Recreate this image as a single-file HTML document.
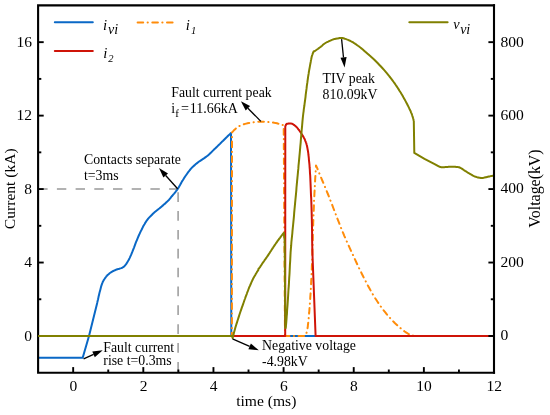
<!DOCTYPE html>
<html><head><meta charset="utf-8"><title>Fault current interruption</title>
<style>
html,body{margin:0;padding:0;background:#fff}
svg{display:block}
text{font-family:"Liberation Serif",serif;font-size:13.8px;fill:#000}
.tk text{font-size:15.5px}
.tkr text{font-size:15.6px}
text.ax{font-size:15.6px}
.lg text{font-style:italic;font-size:14.8px}
.lg tspan.s{font-size:14px}
.lg tspan.n{font-size:10.5px}
</style></head><body>
<svg width="550" height="415" viewBox="0 0 550 415">
<rect width="550" height="415" fill="#fff"/>
<g stroke="#999" stroke-width="1.5" fill="none">
<line x1="38.2" y1="188.9" x2="178.4" y2="188.9" stroke-dasharray="9.4 9.3"/>
<line x1="178.1" y1="192.2" x2="178.1" y2="372.7" stroke-dasharray="9.7 9.16"/>
</g>
<clipPath id="pc"><rect x="38.1" y="5.4" width="455.9" height="367.3"/></clipPath>
<g fill="none" stroke-width="2" stroke-linejoin="round" stroke-linecap="round" clip-path="url(#pc)">
<polyline stroke="#0a68c6" points="38.5,357.7 82.7,357.7 89.0,336.0 97.2,302.9 97.2,302.9 97.5,301.5 98.0,299.5 98.5,297.1 99.1,294.6 99.7,291.9 100.4,289.4 101.0,287.1 101.5,285.3 102.0,283.9 102.5,282.7 102.9,281.6 103.4,280.8 103.8,280.0 104.3,279.3 104.8,278.5 105.3,277.8 105.9,277.0 106.4,276.3 107.0,275.7 107.6,275.0 108.3,274.4 108.9,273.9 109.6,273.3 110.3,272.8 111.0,272.3 111.8,271.8 112.5,271.4 113.3,271.0 114.1,270.6 114.9,270.3 115.7,269.9 116.6,269.5 117.5,269.2 118.4,268.9 119.4,268.7 120.3,268.4 121.3,268.1 122.3,267.7 123.2,267.2 124.1,266.5 124.9,265.6 125.7,264.7 126.5,263.6 127.2,262.4 128.0,261.1 128.8,259.7 129.6,258.1 130.4,256.4 131.3,254.4 132.2,252.2 133.1,249.8 134.1,247.3 135.0,244.8 136.0,242.2 137.0,239.8 137.9,237.6 138.8,235.5 139.8,233.4 140.7,231.4 141.7,229.5 142.6,227.6 143.5,225.8 144.5,224.2 145.4,222.6 146.3,221.2 147.3,219.9 148.2,218.7 149.1,217.7 150.1,216.6 151.0,215.7 152.0,214.7 152.9,213.8 153.8,212.9 154.8,212.0 155.8,211.2 156.7,210.5 157.7,209.7 158.6,209.0 159.6,208.3 160.5,207.5 161.4,206.7 162.3,205.9 163.3,205.1 164.2,204.3 165.1,203.6 165.9,202.8 166.7,202.0 167.5,201.3 168.2,200.6 168.8,200.0 169.4,199.3 169.9,198.7 170.4,198.1 170.9,197.4 171.5,196.7 172.1,196.0 172.8,195.2 173.4,194.4 174.2,193.6 174.9,192.7 175.6,191.8 176.3,190.8 177.1,189.8 177.8,188.8 178.5,187.7 179.2,186.5 179.9,185.3 180.6,184.0 181.3,182.7 182.0,181.4 182.8,180.2 183.6,178.9 184.4,177.6 185.3,176.3 186.2,175.0 187.1,173.7 188.0,172.4 189.0,171.2 189.9,170.0 190.8,168.9 191.7,167.9 192.6,167.0 193.5,166.1 194.4,165.4 195.3,164.6 196.2,163.8 197.1,163.1 198.1,162.3 199.1,161.5 200.2,160.8 201.3,160.1 202.4,159.4 203.5,158.7 204.6,157.9 205.7,157.1 206.8,156.3 207.9,155.4 209.0,154.5 210.0,153.5 211.1,152.5 212.2,151.4 213.2,150.4 214.3,149.3 215.4,148.3 216.5,147.2 217.6,146.1 218.7,145.0 219.9,143.9 221.0,142.8 222.0,141.7 223.1,140.7 224.1,139.7 225.1,138.7 226.1,137.7 227.1,136.8 228.1,135.8 229.0,134.9 229.8,134.2 230.5,133.5 231.0,133.0 231.3,336.0 494.0,336.0"/>
<polyline stroke="#ff8c0a" stroke-dasharray="5.6 4.4 0.2 4.5" points="38.5,336.0 231.9,336.0 232.0,132.4 232.4,132.0 233.0,131.4 233.6,130.7 234.3,129.9 235.1,129.2 235.9,128.4 236.8,127.7 237.6,127.1 238.4,126.6 239.3,126.1 240.2,125.7 241.1,125.3 242.0,124.9 243.0,124.6 244.0,124.2 245.1,123.9 246.2,123.6 247.5,123.3 248.8,123.1 250.1,122.8 251.4,122.6 252.7,122.4 253.9,122.2 255.1,122.1 256.2,122.0 257.2,121.9 258.2,121.8 259.2,121.8 260.1,121.7 261.1,121.7 262.0,121.7 262.9,121.7 263.8,121.7 264.8,121.8 265.7,121.8 266.6,121.9 267.5,122.0 268.4,122.0 269.2,122.1 270.0,122.2 270.7,122.3 271.4,122.3 272.0,122.4 272.6,122.5 273.3,122.6 273.9,122.7 274.5,122.8 275.2,122.9 276.0,123.1 276.8,123.2 277.7,123.5 278.5,123.7 279.4,123.9 280.2,124.1 280.9,124.3 281.5,124.5 282.0,124.7 282.4,124.9 282.7,125.0 283.0,125.2 283.2,125.4 283.4,125.5 283.6,125.6 283.7,125.7 285.0,336.0 305.0,336.0 305.0,336.0 305.1,335.7 305.4,335.3 305.6,334.9 305.9,334.3 306.1,333.8 306.4,333.1 306.7,332.3 306.9,331.5 307.1,330.6 307.3,329.7 307.4,328.8 307.6,327.7 307.8,326.6 307.9,325.2 308.1,323.7 308.3,322.0 308.5,320.0 308.7,317.8 308.9,315.3 309.2,312.7 309.4,310.0 309.6,307.3 309.8,304.6 310.0,302.0 310.2,299.4 310.3,296.9 310.5,294.4 310.7,291.8 310.8,289.2 311.0,286.5 311.1,283.8 311.2,281.0 311.4,278.1 311.5,275.1 311.7,272.1 311.8,269.0 311.9,265.8 312.1,262.7 312.2,259.5 312.3,256.3 312.4,253.0 312.5,249.6 312.6,246.1 312.7,242.7 312.8,239.3 312.8,236.0 312.9,232.9 313.0,230.0 313.1,227.4 313.2,225.1 313.2,223.0 313.3,221.0 313.4,219.1 313.4,217.2 313.5,215.2 313.6,213.0 313.7,210.8 313.8,208.6 313.9,206.4 313.9,204.2 314.0,201.9 314.1,199.5 314.3,196.8 314.4,194.0 314.6,190.7 314.8,186.9 315.0,182.7 315.2,178.5 315.5,174.5 315.7,170.8 315.9,167.7 316.0,165.4 316.0,165.4 316.5,166.6 317.2,168.2 318.0,170.1 318.8,172.2 319.8,174.4 320.7,176.7 321.6,178.9 322.5,181.0 323.3,182.8 324.0,184.5 324.7,186.1 325.3,187.8 326.1,189.6 326.9,191.6 327.9,194.0 329.0,196.8 330.3,200.2 331.9,204.2 333.5,208.5 335.3,213.1 337.0,217.7 338.8,222.1 340.4,226.3 341.9,230.0 343.2,233.2 344.4,236.1 345.6,238.8 346.7,241.3 347.8,243.7 348.9,246.1 350.0,248.6 351.2,251.2 352.5,254.0 353.8,256.8 355.1,259.7 356.4,262.5 357.8,265.4 359.1,268.2 360.5,271.0 361.8,273.7 363.1,276.3 364.4,279.0 365.8,281.5 367.1,284.1 368.4,286.5 369.8,289.0 371.1,291.3 372.4,293.6 373.7,295.8 375.0,297.9 376.4,300.0 377.7,302.0 379.0,304.0 380.3,305.9 381.7,307.7 383.0,309.5 384.3,311.2 385.7,312.9 387.0,314.6 388.4,316.1 389.7,317.6 391.0,319.1 392.3,320.5 393.6,321.8 394.8,323.0 396.1,324.2 397.3,325.3 398.4,326.4 399.6,327.4 400.7,328.3 401.8,329.2 402.8,330.0 403.8,330.8 404.7,331.5 405.6,332.1 406.4,332.7 407.2,333.2 408.0,333.7 408.7,334.1 409.5,334.5 410.3,334.8 411.0,335.1 411.8,335.3 412.6,335.5 413.3,335.7 413.9,335.8 414.4,335.9 414.8,336.0 494.0,336.0"/>
<polyline stroke="#cf1408" points="38.5,336.0 285.2,336.0 285.3,126.5 285.3,126.5 285.4,126.3 285.5,126.0 285.6,125.7 285.7,125.4 285.9,125.0 286.0,124.7 286.2,124.4 286.4,124.2 286.6,124.0 286.8,123.9 287.1,123.8 287.3,123.7 287.6,123.7 287.9,123.7 288.2,123.6 288.5,123.6 288.9,123.6 289.3,123.5 289.7,123.5 290.1,123.5 290.6,123.5 291.0,123.6 291.4,123.6 291.8,123.7 292.2,123.8 292.5,124.0 292.8,124.1 293.2,124.3 293.5,124.6 293.8,124.8 294.2,125.0 294.5,125.3 294.8,125.6 295.2,125.8 295.5,126.1 295.8,126.4 296.2,126.7 296.6,127.1 297.0,127.5 297.4,128.0 297.9,128.6 298.4,129.3 299.0,130.0 299.5,130.8 300.1,131.7 300.7,132.5 301.2,133.3 301.7,134.1 302.2,134.8 302.6,135.6 303.1,136.3 303.5,137.0 303.9,137.8 304.3,138.5 304.7,139.2 305.0,140.0 305.3,140.8 305.6,141.5 305.9,142.3 306.2,143.0 306.4,143.8 306.6,144.6 306.9,145.5 307.1,146.5 307.3,147.5 307.5,148.6 307.7,149.7 307.9,150.8 308.1,152.0 308.3,153.3 308.4,154.7 308.6,156.2 308.8,157.8 308.9,159.5 309.1,161.3 309.3,163.2 309.5,165.2 309.6,167.2 309.8,169.3 309.9,171.4 310.0,173.5 310.2,175.7 310.3,177.9 310.4,180.1 310.5,182.5 310.6,184.9 310.7,187.4 310.8,190.0 310.9,192.7 311.0,195.4 311.2,198.1 311.3,201.0 311.4,204.0 311.5,207.1 311.6,210.5 311.7,214.1 311.8,218.3 311.9,223.1 312.0,228.3 312.1,233.6 312.1,238.6 312.2,243.3 312.3,247.1 312.3,250.0 315.6,336.0 494.0,336.0"/>
</g>
<g stroke="#000" stroke-width="1.9"><line x1="73.17" y1="372.7" x2="73.17" y2="367.09999999999997"/><line x1="108.24" y1="372.7" x2="108.24" y2="369.5"/><line x1="143.31" y1="372.7" x2="143.31" y2="367.09999999999997"/><line x1="178.38" y1="372.7" x2="178.38" y2="369.5"/><line x1="213.45" y1="372.7" x2="213.45" y2="367.09999999999997"/><line x1="248.52" y1="372.7" x2="248.52" y2="369.5"/><line x1="283.59" y1="372.7" x2="283.59" y2="367.09999999999997"/><line x1="318.66" y1="372.7" x2="318.66" y2="369.5"/><line x1="353.73" y1="372.7" x2="353.73" y2="367.09999999999997"/><line x1="388.80" y1="372.7" x2="388.80" y2="369.5"/><line x1="423.87" y1="372.7" x2="423.87" y2="367.09999999999997"/><line x1="458.94" y1="372.7" x2="458.94" y2="369.5"/><line x1="38.1" y1="336.00" x2="43.7" y2="336.00"/><line x1="38.1" y1="299.27" x2="41.300000000000004" y2="299.27"/><line x1="38.1" y1="262.54" x2="43.7" y2="262.54"/><line x1="38.1" y1="225.81" x2="41.300000000000004" y2="225.81"/><line x1="38.1" y1="189.08" x2="43.7" y2="189.08"/><line x1="38.1" y1="152.35" x2="41.300000000000004" y2="152.35"/><line x1="38.1" y1="115.62" x2="43.7" y2="115.62"/><line x1="38.1" y1="78.89" x2="41.300000000000004" y2="78.89"/><line x1="38.1" y1="42.16" x2="43.7" y2="42.16"/></g>
<path d="M494.0,5.4 H38.1 V372.7 H494.0" fill="none" stroke="#000" stroke-width="2.1" stroke-linecap="square"/>
<g fill="none" stroke-width="2" stroke-linejoin="round" stroke-linecap="round" clip-path="url(#pc)">
<polyline stroke="#808000" points="38.5,336.0 232.0,336.0 232.6,338.0 232.6,338.0 232.9,337.0 233.2,335.8 233.6,334.2 234.0,332.5 234.5,330.7 235.0,328.9 235.5,327.1 236.0,325.5 236.5,323.9 237.0,322.4 237.5,320.8 238.0,319.2 238.5,317.6 239.0,316.1 239.5,314.5 240.0,313.0 240.5,311.5 241.0,310.1 241.5,308.6 242.0,307.2 242.5,305.8 243.0,304.4 243.5,303.0 244.0,301.5 244.5,300.0 245.1,298.5 245.6,296.9 246.2,295.4 246.8,293.8 247.3,292.3 247.9,290.9 248.4,289.5 248.9,288.2 249.4,286.9 250.0,285.7 250.5,284.5 251.0,283.3 251.5,282.2 252.0,281.1 252.5,280.0 253.0,278.9 253.6,277.8 254.2,276.7 254.8,275.7 255.4,274.7 255.9,273.8 256.4,273.0 256.8,272.3 257.1,271.7 257.4,271.3 257.6,270.9 257.8,270.7 258.0,270.5 258.1,270.3 258.2,270.1 258.3,270.0 258.5,268.8 259.2,268.2 259.2,268.2 259.5,267.7 260.0,267.1 260.5,266.3 261.1,265.4 261.7,264.5 262.3,263.5 262.9,262.6 263.5,261.8 264.1,261.0 264.6,260.2 265.2,259.4 265.8,258.6 266.3,257.8 266.9,257.0 267.5,256.2 268.0,255.4 268.5,254.6 269.0,253.8 269.5,253.1 270.0,252.3 270.5,251.5 271.0,250.8 271.5,250.0 272.0,249.2 272.5,248.4 273.1,247.6 273.6,246.8 274.2,245.9 274.7,245.1 275.3,244.3 275.8,243.5 276.3,242.8 276.8,242.1 277.3,241.5 277.7,240.8 278.2,240.2 278.6,239.6 279.1,239.0 279.5,238.4 280.0,237.8 280.5,237.1 281.0,236.4 281.6,235.7 282.1,235.0 282.6,234.3 283.1,233.7 283.5,233.2 283.8,232.8 284.7,241.0 285.3,328.0 285.7,328.0 285.7,327.6 285.8,327.1 285.9,326.5 285.9,325.9 286.0,325.1 286.1,324.2 286.2,323.2 286.3,322.0 286.4,320.7 286.5,319.3 286.6,317.9 286.7,316.2 286.9,314.5 287.0,312.5 287.1,310.4 287.3,308.0 287.5,305.4 287.7,302.5 287.9,299.5 288.1,296.2 288.3,292.8 288.5,289.3 288.8,285.7 289.0,282.0 289.2,278.1 289.5,273.9 289.7,269.6 289.9,265.1 290.2,260.7 290.4,256.4 290.6,252.4 290.9,248.6 291.2,245.2 291.4,242.0 291.7,239.1 292.0,236.3 292.3,233.5 292.5,230.8 292.8,227.9 293.1,225.0 293.4,221.9 293.7,218.8 294.0,215.7 294.2,212.6 294.5,209.4 294.8,206.3 295.1,203.1 295.4,200.0 295.7,196.9 296.0,193.8 296.3,190.6 296.5,187.5 296.8,184.4 297.1,181.2 297.4,178.1 297.7,175.0 298.0,171.9 298.3,168.9 298.5,165.9 298.8,162.9 299.1,159.8 299.4,156.7 299.7,153.4 300.0,150.0 300.3,146.3 300.7,142.3 301.0,138.1 301.4,133.9 301.7,129.8 302.1,125.8 302.4,122.1 302.7,118.8 303.0,116.0 303.3,113.5 303.6,111.3 303.8,109.3 304.1,107.4 304.4,105.5 304.6,103.6 304.9,101.5 305.2,99.3 305.5,97.1 305.7,94.8 306.0,92.6 306.3,90.4 306.6,88.2 306.8,86.1 307.1,84.1 307.4,82.2 307.6,80.3 307.9,78.5 308.1,76.8 308.4,75.0 308.7,73.4 308.9,71.7 309.2,70.1 309.5,68.5 309.8,66.8 310.1,65.1 310.4,63.5 310.7,62.0 310.9,60.6 311.2,59.3 311.4,58.2 311.6,57.3 311.8,56.6 311.9,56.1 312.0,55.6 312.2,55.3 312.3,55.0 312.4,54.7 312.5,54.3 312.6,53.9 312.8,53.6 312.9,53.2 313.0,52.9 313.1,52.6 313.2,52.4 313.3,52.2 313.4,52.0 313.8,51.2 314.6,51.2 314.6,51.2 315.0,50.9 315.6,50.5 316.3,50.0 317.0,49.5 317.8,49.0 318.6,48.4 319.4,47.8 320.1,47.3 320.8,46.8 321.4,46.2 322.1,45.7 322.7,45.1 323.3,44.6 324.0,44.0 324.7,43.5 325.5,43.0 326.3,42.5 327.2,42.0 328.2,41.6 329.1,41.1 330.1,40.7 331.0,40.3 331.9,39.9 332.7,39.6 333.5,39.3 334.2,39.1 334.9,39.0 335.6,38.8 336.2,38.7 336.8,38.6 337.4,38.5 338.0,38.4 338.5,38.3 339.0,38.2 339.5,38.1 340.0,38.1 340.4,38.0 340.9,38.0 341.3,38.0 341.8,38.0 342.3,38.1 342.8,38.1 343.3,38.2 343.8,38.4 344.3,38.5 344.8,38.7 345.4,38.9 346.0,39.1 346.7,39.4 347.4,39.6 348.1,39.9 348.9,40.3 349.7,40.6 350.5,41.0 351.2,41.4 352.0,41.8 352.7,42.2 353.5,42.7 354.2,43.2 355.0,43.7 355.7,44.2 356.5,44.7 357.2,45.2 358.0,45.8 358.7,46.3 359.4,46.8 360.0,47.3 360.7,47.8 361.4,48.4 362.2,49.0 363.1,49.8 364.1,50.7 365.3,51.8 366.7,52.9 368.2,54.2 369.7,55.6 371.3,57.0 373.0,58.5 374.6,60.0 376.1,61.5 377.6,63.0 379.2,64.7 380.7,66.3 382.3,68.0 383.8,69.7 385.3,71.4 386.8,73.1 388.2,74.8 389.5,76.5 390.8,78.1 392.1,79.8 393.3,81.5 394.5,83.1 395.6,84.8 396.7,86.4 397.8,88.0 398.8,89.6 399.8,91.2 400.8,92.7 401.7,94.3 402.6,95.8 403.4,97.3 404.2,98.7 405.0,100.1 405.7,101.4 406.4,102.7 407.1,104.0 407.7,105.2 408.3,106.4 408.9,107.6 409.4,108.7 409.9,109.7 410.4,110.7 410.8,111.7 411.1,112.6 411.5,113.4 411.8,114.2 412.1,115.0 412.3,115.8 412.6,116.5 412.8,117.2 413.0,117.9 413.2,118.6 413.4,119.2 413.5,119.7 413.6,120.2 413.7,120.7 413.8,121.0 414.3,152.9 424.5,158.8 435.1,164.3 438.3,166.2 438.3,166.2 438.6,166.3 438.9,166.4 439.3,166.6 439.7,166.8 440.2,166.9 440.7,167.1 441.2,167.2 441.7,167.3 442.2,167.3 442.7,167.3 443.2,167.3 443.8,167.2 444.3,167.2 444.9,167.1 445.4,167.0 446.0,167.0 446.6,167.0 447.2,166.9 447.8,166.9 448.5,166.8 449.1,166.8 449.7,166.7 450.4,166.7 451.0,166.7 451.6,166.7 452.3,166.7 452.9,166.7 453.5,166.7 454.2,166.8 454.8,166.8 455.4,166.8 456.0,166.9 456.6,167.0 457.1,167.0 457.6,167.0 458.1,167.1 458.5,167.2 459.1,167.3 459.7,167.5 460.3,167.8 461.0,168.2 461.8,168.6 462.5,169.1 463.4,169.7 464.2,170.3 465.1,170.9 466.0,171.4 466.9,172.0 467.8,172.6 468.8,173.2 469.9,173.8 470.9,174.4 471.9,175.0 473.0,175.6 474.0,176.1 474.9,176.5 475.8,176.8 476.7,177.1 477.5,177.4 478.4,177.5 479.2,177.7 480.0,177.8 480.7,177.9 481.5,177.9 482.2,177.9 482.9,177.9 483.6,177.8 484.2,177.6 484.9,177.5 485.5,177.3 486.2,177.2 487.0,177.0 487.9,176.8 488.8,176.6 489.8,176.4 490.8,176.1 491.8,175.9 492.7,175.7 493.4,175.5 494.0,175.4"/>
</g>
<g stroke="#000" stroke-width="1.9"><line x1="494.0" y1="336.00" x2="488.4" y2="336.00"/><line x1="494.0" y1="299.27" x2="490.8" y2="299.27"/><line x1="494.0" y1="262.54" x2="488.4" y2="262.54"/><line x1="494.0" y1="225.81" x2="490.8" y2="225.81"/><line x1="494.0" y1="189.08" x2="488.4" y2="189.08"/><line x1="494.0" y1="152.35" x2="490.8" y2="152.35"/><line x1="494.0" y1="115.62" x2="488.4" y2="115.62"/><line x1="494.0" y1="78.89" x2="490.8" y2="78.89"/><line x1="494.0" y1="42.16" x2="488.4" y2="42.16"/></g>
<line x1="494.0" y1="4.3500000000000005" x2="494.0" y2="373.75" stroke="#000" stroke-width="2.1"/>
<g class="tk"><text x="73.4" y="390.9" text-anchor="middle">0</text><text x="143.5" y="390.9" text-anchor="middle">2</text><text x="213.6" y="390.9" text-anchor="middle">4</text><text x="283.8" y="390.9" text-anchor="middle">6</text><text x="353.9" y="390.9" text-anchor="middle">8</text><text x="424.1" y="390.9" text-anchor="middle">10</text><text x="494.2" y="390.9" text-anchor="middle">12</text><text x="32.0" y="340.6" text-anchor="end">0</text><text x="32.0" y="267.1" text-anchor="end">4</text><text x="32.0" y="193.7" text-anchor="end">8</text><text x="32.0" y="120.2" text-anchor="end">12</text><text x="32.0" y="46.8" text-anchor="end">16</text></g><g class="tkr"><text x="500.4" y="340.3">0</text><text x="500.4" y="266.8">200</text><text x="500.4" y="193.4">400</text><text x="500.4" y="119.9">600</text><text x="500.4" y="46.5">800</text></g>
<text class="ax" x="266.3" y="405.8" text-anchor="middle">time (ms)</text>
<text class="ax" transform="translate(14.5,188.7) rotate(-90)" text-anchor="middle">Current (kA)</text>
<text class="ax" style="font-size:15.9px" transform="translate(540.0,188.5) rotate(-90)" text-anchor="middle">Voltage(kV)</text>
<g stroke-width="2" fill="none">
<line x1="54.8" y1="22.35" x2="92.8" y2="22.35" stroke="#0a68c6" stroke-linecap="round"/>
<line x1="54.8" y1="51.1" x2="92.8" y2="51.1" stroke="#cf1408" stroke-linecap="round"/>
<line x1="137.6" y1="22.4" x2="172.6" y2="22.4" stroke="#ff8c0a" stroke-dasharray="5.6 4.4 0.2 4.5" stroke-linecap="round"/>
<line x1="409.3" y1="22.3" x2="447.6" y2="22.3" stroke="#808000" stroke-linecap="round"/>
</g>
<g class="lg">
<text x="103.0" y="29.6">i<tspan class="s" dx="0.8" dy="4.2">vi</tspan></text>
<text x="103.2" y="58">i<tspan class="n" dx="0.8" dy="4.2">2</tspan></text>
<text x="185.8" y="29.6">i<tspan class="n" dx="1" dy="4.2">1</tspan></text>
<text x="453.2" y="29" style="font-size:14.3px">v<tspan class="s" dx="0.6" dy="5.1">vi</tspan></text>
</g>
<text x="103.3" y="352.3">Fault current</text>
<text x="103.3" y="364.8">rise t=0.3ms</text>
<text x="84" y="164.4">Contacts separate</text>
<text x="84" y="180.4">t=3ms</text>
<text x="171.3" y="96.6">Fault current peak</text>
<text x="171.3" y="112.9">i<tspan dy="4" dx="0.2" style="font-size:11px">f</tspan><tspan x="180.9" y="112.9" style="font-size:14.1px">=</tspan><tspan dx="0.9" style="font-size:14px">11.66kA</tspan></text>
<text x="322.6" y="83.2">TIV peak</text>
<text x="322.6" y="98.8">810.09kV</text>
<text x="262.1" y="350.2">Negative voltage</text>
<text x="262.1" y="365.7">-4.98kV</text>
<line x1="83.6" y1="358.8" x2="93.6" y2="354.4" stroke="#000" stroke-width="1.3"/><polygon points="102.7,350.3 94.8,357.2 92.3,351.5" fill="#000"/><line x1="177.6" y1="188.8" x2="165.7" y2="175.5" stroke="#000" stroke-width="1.3"/><polygon points="159.0,168.0 168.0,173.4 163.4,177.5" fill="#000"/><line x1="260.9" y1="121.4" x2="247.9" y2="108.3" stroke="#000" stroke-width="1.3"/><polygon points="240.9,101.2 250.1,106.1 245.7,110.5" fill="#000"/><line x1="232.5" y1="338.9" x2="249.6" y2="346.3" stroke="#000" stroke-width="1.3"/><polygon points="258.8,350.3 248.4,349.2 250.9,343.5" fill="#000"/><line x1="341.6" y1="39.1" x2="343.5" y2="57.5" stroke="#000" stroke-width="1.3"/><polygon points="344.6,67.4 340.5,57.8 346.6,57.1" fill="#000"/>
</svg>
</body></html>
